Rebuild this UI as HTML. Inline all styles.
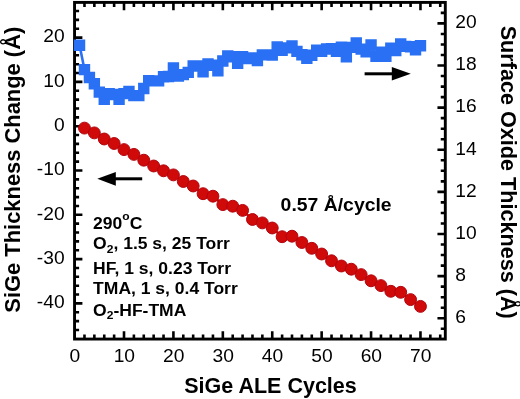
<!DOCTYPE html>
<html lang="en"><head><meta charset="utf-8"><title>SiGe ALE</title>
<style>html,body{margin:0;padding:0;background:#fff}body{width:520px;height:399px;overflow:hidden}svg{display:block}</style>
</head><body>
<svg width="520" height="399" viewBox="0 0 520 399">
<rect width="520" height="399" fill="#fff"/>
<path d="M84.48 339.05v-4.55M84.48 2.40v4.55M94.36 339.05v-4.55M94.36 2.40v4.55M104.25 339.05v-4.55M104.25 2.40v4.55M114.13 339.05v-4.55M114.13 2.40v4.55M124.01 339.05v-7.85M124.01 2.40v7.85M133.89 339.05v-4.55M133.89 2.40v4.55M143.77 339.05v-4.55M143.77 2.40v4.55M153.66 339.05v-4.55M153.66 2.40v4.55M163.54 339.05v-4.55M163.54 2.40v4.55M173.42 339.05v-7.85M173.42 2.40v7.85M183.30 339.05v-4.55M183.30 2.40v4.55M193.18 339.05v-4.55M193.18 2.40v4.55M203.07 339.05v-4.55M203.07 2.40v4.55M212.95 339.05v-4.55M212.95 2.40v4.55M222.83 339.05v-7.85M222.83 2.40v7.85M232.71 339.05v-4.55M232.71 2.40v4.55M242.59 339.05v-4.55M242.59 2.40v4.55M252.48 339.05v-4.55M252.48 2.40v4.55M262.36 339.05v-4.55M262.36 2.40v4.55M272.24 339.05v-7.85M272.24 2.40v7.85M282.12 339.05v-4.55M282.12 2.40v4.55M292.00 339.05v-4.55M292.00 2.40v4.55M301.89 339.05v-4.55M301.89 2.40v4.55M311.77 339.05v-4.55M311.77 2.40v4.55M321.65 339.05v-7.85M321.65 2.40v7.85M331.53 339.05v-4.55M331.53 2.40v4.55M341.41 339.05v-4.55M341.41 2.40v4.55M351.30 339.05v-4.55M351.30 2.40v4.55M361.18 339.05v-4.55M361.18 2.40v4.55M371.06 339.05v-7.85M371.06 2.40v7.85M380.94 339.05v-4.55M380.94 2.40v4.55M390.82 339.05v-4.55M390.82 2.40v4.55M400.71 339.05v-4.55M400.71 2.40v4.55M410.59 339.05v-4.55M410.59 2.40v4.55M420.47 339.05v-7.85M420.47 2.40v7.85M430.35 339.05v-4.55M430.35 2.40v4.55M440.23 339.05v-4.55M440.23 2.40v4.55M74.55 329.98h4.55M74.55 321.12h4.55M74.55 312.26h4.55M74.55 303.40h7.85M74.55 294.54h4.55M74.55 285.68h4.55M74.55 276.82h4.55M74.55 267.96h4.55M74.55 259.10h7.85M74.55 250.24h4.55M74.55 241.38h4.55M74.55 232.52h4.55M74.55 223.66h4.55M74.55 214.80h7.85M74.55 205.94h4.55M74.55 197.08h4.55M74.55 188.22h4.55M74.55 179.36h4.55M74.55 170.50h7.85M74.55 161.64h4.55M74.55 152.78h4.55M74.55 143.92h4.55M74.55 135.06h4.55M74.55 126.20h7.85M74.55 117.34h4.55M74.55 108.48h4.55M74.55 99.62h4.55M74.55 90.76h4.55M74.55 81.90h7.85M74.55 73.04h4.55M74.55 64.18h4.55M74.55 55.32h4.55M74.55 46.46h4.55M74.55 37.60h7.85M74.55 28.74h4.55M74.55 19.88h4.55M74.55 11.02h4.55M445.30 328.77h-4.55M445.30 318.24h-7.85M445.30 307.71h-4.55M445.30 297.18h-4.55M445.30 286.65h-4.55M445.30 276.12h-7.85M445.30 265.59h-4.55M445.30 255.06h-4.55M445.30 244.53h-4.55M445.30 234.00h-7.85M445.30 223.47h-4.55M445.30 212.94h-4.55M445.30 202.41h-4.55M445.30 191.88h-7.85M445.30 181.35h-4.55M445.30 170.82h-4.55M445.30 160.29h-4.55M445.30 149.76h-7.85M445.30 139.23h-4.55M445.30 128.70h-4.55M445.30 118.17h-4.55M445.30 107.64h-7.85M445.30 97.11h-4.55M445.30 86.58h-4.55M445.30 76.05h-4.55M445.30 65.52h-7.85M445.30 54.99h-4.55M445.30 44.46h-4.55M445.30 33.93h-4.55M445.30 23.40h-7.85M445.30 12.87h-4.55" stroke="#000" stroke-width="2.6" fill="none"/>
<rect x="74.55" y="2.4" width="370.75" height="336.65000000000003" fill="none" stroke="#000" stroke-width="2.9"/>
<polyline points="79.54,45.20 84.48,69.60 89.42,77.50 94.36,83.70 99.30,92.10 104.25,99.40 109.19,93.60 114.13,94.50 119.07,99.40 124.01,93.60 128.95,91.40 133.89,95.60 138.83,95.60 143.77,88.50 148.71,80.70 153.66,80.90 158.60,80.90 163.54,76.80 168.48,76.50 173.42,68.00 178.36,76.00 183.30,74.60 188.24,72.40 193.18,66.00 198.12,66.00 203.07,71.70 208.01,64.00 212.95,65.20 217.89,70.90 222.83,61.00 227.77,56.00 232.71,56.80 237.65,63.20 242.59,56.80 247.53,58.60 252.48,58.00 257.42,60.60 262.36,54.90 267.30,54.90 272.24,55.10 277.18,47.00 282.12,50.20 287.06,47.90 292.00,45.90 296.94,51.40 301.89,54.70 306.83,58.20 311.77,55.20 316.71,50.20 321.65,51.40 326.59,49.00 331.53,48.60 336.47,51.40 341.41,47.10 346.36,56.70 351.30,47.40 356.24,43.00 361.18,49.10 366.12,51.70 371.06,44.90 376.00,56.40 380.94,52.10 385.88,56.40 390.82,48.30 395.76,50.60 400.71,44.00 405.65,46.40 410.59,46.80 415.53,49.70 420.47,45.80" fill="none" stroke="#2a70f4" stroke-width="2.6"/>
<path d="M73.84 39.50h11.4v11.4h-11.4zM78.78 63.90h11.4v11.4h-11.4zM83.72 71.80h11.4v11.4h-11.4zM88.66 78.00h11.4v11.4h-11.4zM93.60 86.40h11.4v11.4h-11.4zM98.55 93.70h11.4v11.4h-11.4zM103.49 87.90h11.4v11.4h-11.4zM108.43 88.80h11.4v11.4h-11.4zM113.37 93.70h11.4v11.4h-11.4zM118.31 87.90h11.4v11.4h-11.4zM123.25 85.70h11.4v11.4h-11.4zM128.19 89.90h11.4v11.4h-11.4zM133.13 89.90h11.4v11.4h-11.4zM138.07 82.80h11.4v11.4h-11.4zM143.01 75.00h11.4v11.4h-11.4zM147.96 75.20h11.4v11.4h-11.4zM152.90 75.20h11.4v11.4h-11.4zM157.84 71.10h11.4v11.4h-11.4zM162.78 70.80h11.4v11.4h-11.4zM167.72 62.30h11.4v11.4h-11.4zM172.66 70.30h11.4v11.4h-11.4zM177.60 68.90h11.4v11.4h-11.4zM182.54 66.70h11.4v11.4h-11.4zM187.48 60.30h11.4v11.4h-11.4zM192.43 60.30h11.4v11.4h-11.4zM197.37 66.00h11.4v11.4h-11.4zM202.31 58.30h11.4v11.4h-11.4zM207.25 59.50h11.4v11.4h-11.4zM212.19 65.20h11.4v11.4h-11.4zM217.13 55.30h11.4v11.4h-11.4zM222.07 50.30h11.4v11.4h-11.4zM227.01 51.10h11.4v11.4h-11.4zM231.95 57.50h11.4v11.4h-11.4zM236.89 51.10h11.4v11.4h-11.4zM241.84 52.90h11.4v11.4h-11.4zM246.78 52.30h11.4v11.4h-11.4zM251.72 54.90h11.4v11.4h-11.4zM256.66 49.20h11.4v11.4h-11.4zM261.60 49.20h11.4v11.4h-11.4zM266.54 49.40h11.4v11.4h-11.4zM271.48 41.30h11.4v11.4h-11.4zM276.42 44.50h11.4v11.4h-11.4zM281.36 42.20h11.4v11.4h-11.4zM286.30 40.20h11.4v11.4h-11.4zM291.25 45.70h11.4v11.4h-11.4zM296.19 49.00h11.4v11.4h-11.4zM301.13 52.50h11.4v11.4h-11.4zM306.07 49.50h11.4v11.4h-11.4zM311.01 44.50h11.4v11.4h-11.4zM315.95 45.70h11.4v11.4h-11.4zM320.89 43.30h11.4v11.4h-11.4zM325.83 42.90h11.4v11.4h-11.4zM330.77 45.70h11.4v11.4h-11.4zM335.71 41.40h11.4v11.4h-11.4zM340.66 51.00h11.4v11.4h-11.4zM345.60 41.70h11.4v11.4h-11.4zM350.54 37.30h11.4v11.4h-11.4zM355.48 43.40h11.4v11.4h-11.4zM360.42 46.00h11.4v11.4h-11.4zM365.36 39.20h11.4v11.4h-11.4zM370.30 50.70h11.4v11.4h-11.4zM375.24 46.40h11.4v11.4h-11.4zM380.18 50.70h11.4v11.4h-11.4zM385.12 42.60h11.4v11.4h-11.4zM390.06 44.90h11.4v11.4h-11.4zM395.01 38.30h11.4v11.4h-11.4zM399.95 40.70h11.4v11.4h-11.4zM404.89 41.10h11.4v11.4h-11.4zM409.83 44.00h11.4v11.4h-11.4zM414.77 40.10h11.4v11.4h-11.4z" fill="#2a70f4"/>
<polyline points="84.48,128.10 94.36,132.90 104.25,139.00 114.13,143.50 124.01,149.60 133.89,154.40 143.77,160.20 153.66,166.00 163.54,170.80 173.42,174.90 183.30,181.50 193.18,186.00 203.07,193.70 212.95,196.20 222.83,204.60 232.71,206.20 242.59,210.40 252.48,219.50 262.36,222.90 272.24,228.00 282.12,236.70 292.00,236.20 301.89,242.50 311.77,248.30 321.65,254.00 331.53,260.80 341.41,266.00 351.30,269.20 361.18,274.60 371.06,280.80 380.94,285.60 390.82,291.30 400.71,292.30 410.59,299.60 420.47,306.40" fill="none" stroke="#d00909" stroke-width="2.6"/>
<g fill="#d00909" stroke="#b2050e" stroke-width="1"><circle cx="84.48" cy="128.10" r="5.95"/><circle cx="94.36" cy="132.90" r="5.95"/><circle cx="104.25" cy="139.00" r="5.95"/><circle cx="114.13" cy="143.50" r="5.95"/><circle cx="124.01" cy="149.60" r="5.95"/><circle cx="133.89" cy="154.40" r="5.95"/><circle cx="143.77" cy="160.20" r="5.95"/><circle cx="153.66" cy="166.00" r="5.95"/><circle cx="163.54" cy="170.80" r="5.95"/><circle cx="173.42" cy="174.90" r="5.95"/><circle cx="183.30" cy="181.50" r="5.95"/><circle cx="193.18" cy="186.00" r="5.95"/><circle cx="203.07" cy="193.70" r="5.95"/><circle cx="212.95" cy="196.20" r="5.95"/><circle cx="222.83" cy="204.60" r="5.95"/><circle cx="232.71" cy="206.20" r="5.95"/><circle cx="242.59" cy="210.40" r="5.95"/><circle cx="252.48" cy="219.50" r="5.95"/><circle cx="262.36" cy="222.90" r="5.95"/><circle cx="272.24" cy="228.00" r="5.95"/><circle cx="282.12" cy="236.70" r="5.95"/><circle cx="292.00" cy="236.20" r="5.95"/><circle cx="301.89" cy="242.50" r="5.95"/><circle cx="311.77" cy="248.30" r="5.95"/><circle cx="321.65" cy="254.00" r="5.95"/><circle cx="331.53" cy="260.80" r="5.95"/><circle cx="341.41" cy="266.00" r="5.95"/><circle cx="351.30" cy="269.20" r="5.95"/><circle cx="361.18" cy="274.60" r="5.95"/><circle cx="371.06" cy="280.80" r="5.95"/><circle cx="380.94" cy="285.60" r="5.95"/><circle cx="390.82" cy="291.30" r="5.95"/><circle cx="400.71" cy="292.30" r="5.95"/><circle cx="410.59" cy="299.60" r="5.95"/><circle cx="420.47" cy="306.40" r="5.95"/></g>
<path d="M142.2 178.8H112" stroke="#000" stroke-width="3" fill="none"/><path d="M97.3 178.8L115.8 172v13.7z" fill="#000"/>
<path d="M364.6 73.8H395" stroke="#000" stroke-width="3" fill="none"/><path d="M410.8 73.8L391.8 66.9v13.6z" fill="#000"/>
<g font-family="&quot;Liberation Sans&quot;, sans-serif" font-size="18.3" fill="#000">
<text transform="translate(64.60 308.20) scale(1.05 1)" text-anchor="end">-40</text>
<text transform="translate(64.60 263.90) scale(1.05 1)" text-anchor="end">-30</text>
<text transform="translate(64.60 219.60) scale(1.05 1)" text-anchor="end">-20</text>
<text transform="translate(64.60 175.30) scale(1.05 1)" text-anchor="end">-10</text>
<text transform="translate(64.60 131.00) scale(1.05 1)" text-anchor="end">0</text>
<text transform="translate(64.60 86.70) scale(1.05 1)" text-anchor="end">10</text>
<text transform="translate(64.60 42.40) scale(1.05 1)" text-anchor="end">20</text>
<text transform="translate(74.90 361.80) scale(1.05 1)" text-anchor="middle">0</text>
<text transform="translate(124.31 361.80) scale(1.05 1)" text-anchor="middle">10</text>
<text transform="translate(173.72 361.80) scale(1.05 1)" text-anchor="middle">20</text>
<text transform="translate(223.13 361.80) scale(1.05 1)" text-anchor="middle">30</text>
<text transform="translate(272.54 361.80) scale(1.05 1)" text-anchor="middle">40</text>
<text transform="translate(321.95 361.80) scale(1.05 1)" text-anchor="middle">50</text>
<text transform="translate(371.36 361.80) scale(1.05 1)" text-anchor="middle">60</text>
<text transform="translate(420.77 361.80) scale(1.05 1)" text-anchor="middle">70</text>
<text transform="translate(455.20 323.04) scale(1.05 1)" text-anchor="start">6</text>
<text transform="translate(455.20 280.92) scale(1.05 1)" text-anchor="start">8</text>
<text transform="translate(455.20 238.80) scale(1.05 1)" text-anchor="start">10</text>
<text transform="translate(455.20 196.68) scale(1.05 1)" text-anchor="start">12</text>
<text transform="translate(455.20 154.56) scale(1.05 1)" text-anchor="start">14</text>
<text transform="translate(455.20 112.44) scale(1.05 1)" text-anchor="start">16</text>
<text transform="translate(455.20 70.32) scale(1.05 1)" text-anchor="start">18</text>
<text transform="translate(455.20 28.20) scale(1.05 1)" text-anchor="start">20</text>
</g>
<g font-family="&quot;Liberation Sans&quot;, sans-serif" font-weight="bold" fill="#000">
<text id="xl" x="270.5" y="393.2" font-size="21.5" text-anchor="middle">SiGe ALE Cycles</text>
<text id="yl" transform="translate(19.5 169.7) rotate(-90) scale(1.019 1)" font-size="21.5" text-anchor="middle">SiGe Thickness Change (Å)</text>
<text id="yr" transform="translate(500.5 172.2) rotate(90) scale(1.006 1)" font-size="21.5" text-anchor="middle">Surface Oxide Thickness (Å)</text>
<text id="rate" transform="translate(280.6 211) scale(1.09 1)" font-size="17.8">0.57 Å/cycle</text>
<g font-size="16">
<text id="a1" transform="translate(93.1 228.9) scale(1.095 1)">290<tspan font-size="11" dy="-8.5">o</tspan><tspan dy="8.5">C</tspan></text>
<text id="a2" transform="translate(93.1 249.3) scale(1.095 1)">O<tspan font-size="11" dy="3.6">2</tspan><tspan dy="-3.6">, 1.5 s, 25 Torr</tspan></text>
<text id="a3" transform="translate(93.1 274.2) scale(1.095 1)">HF, 1 s, 0.23 Torr</text>
<text id="a4" transform="translate(93.1 294.2) scale(1.095 1)">TMA, 1 s, 0.4 Torr</text>
<text id="a5" transform="translate(93.1 315.8) scale(1.095 1)">O<tspan font-size="11" dy="3.6">2</tspan><tspan dy="-3.6">-HF-TMA</tspan></text>
</g></g>
</svg>
</body></html>
